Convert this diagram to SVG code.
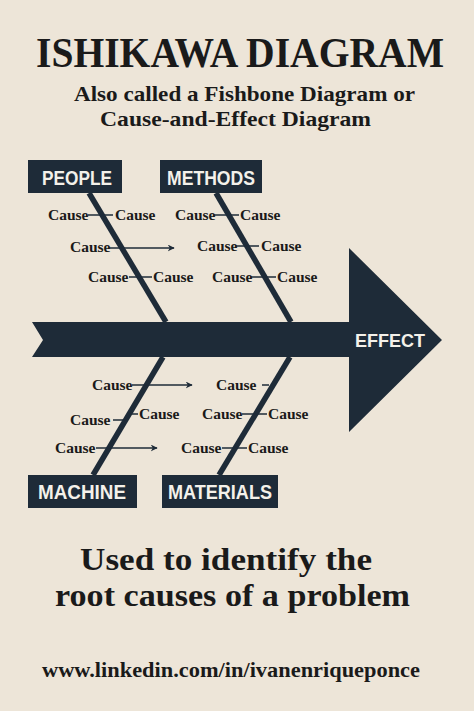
<svg xmlns="http://www.w3.org/2000/svg" width="474" height="711" viewBox="0 0 474 711">
<defs>
<marker id="ah" viewBox="0 0 10 10" refX="9" refY="5" markerWidth="7" markerHeight="7" markerUnits="userSpaceOnUse" orient="auto">
<path d="M0,0 L10,5 L0,10 L3,5 Z" fill="#1e2b38"/>
</marker>
</defs>
<style>
.bg{fill:#ede5d8}
.box{fill:#1e2b38}
.bl{font-family:"Liberation Sans",Arial,sans-serif;font-weight:bold;font-size:20px;fill:#f4f1ea}
.bone{stroke:#1e2b38;stroke-width:5.5;stroke-linecap:butt;fill:none}
.tick{stroke:#1e2b38;stroke-width:1.5;fill:none}
.arr{stroke:#1e2b38;stroke-width:1.5;fill:none;marker-end:url(#ah)}
.c{font-family:"Liberation Serif","Times New Roman",serif;font-weight:bold;font-size:15.5px;fill:#1a1a1a}
.t{font-family:"Liberation Serif","Times New Roman",serif;font-weight:bold;fill:#1a1a1a}
</style>
<rect class="bg" x="0" y="0" width="474" height="711"/>
<text class="t" x="36" y="67" font-size="42" textLength="408" lengthAdjust="spacingAndGlyphs">ISHIKAWA DIAGRAM</text>
<text class="t" x="74" y="101" font-size="21" textLength="341" lengthAdjust="spacingAndGlyphs">Also called a Fishbone Diagram or</text>
<text class="t" x="100" y="126" font-size="21" textLength="271" lengthAdjust="spacingAndGlyphs">Cause-and-Effect Diagram</text>

<g id="spine">
<path class="box" d="M32,322 L349,322 L349,248 L442,340 L349,432 L349,357 L32,357 L43,340 Z"/>
<text x="355" y="347" font-family="'Liberation Sans',Arial,sans-serif" font-weight="bold" font-size="19" fill="#f4f1ea" textLength="70" lengthAdjust="spacingAndGlyphs">EFFECT</text>
</g>

<g id="connectors">
<line class="bone" x1="89" y1="193" x2="166" y2="322"/>
<line class="bone" x1="216" y1="193" x2="291" y2="322"/>
<line class="bone" x1="163" y1="357" x2="93" y2="475"/>
<line class="bone" x1="290" y1="357" x2="219" y2="475"/>
<line class="tick" x1="88" y1="215" x2="113" y2="215"/>
<line class="arr" x1="109" y1="248" x2="174" y2="248"/>
<line class="tick" x1="129" y1="277" x2="152" y2="277"/>
<line class="tick" x1="214" y1="215" x2="239" y2="215"/>
<line class="tick" x1="236" y1="246" x2="259" y2="246"/>
<line class="tick" x1="251" y1="277" x2="276" y2="277"/>
<line class="arr" x1="132" y1="385" x2="192" y2="385"/>
<line class="tick" x1="113" y1="420" x2="126" y2="420"/>
<line class="tick" x1="131" y1="414" x2="138" y2="414"/>
<line class="arr" x1="96" y1="448" x2="157" y2="448"/>
<line class="tick" x1="262" y1="385" x2="269" y2="385"/>
<line class="tick" x1="242" y1="414" x2="267" y2="414"/>
<line class="tick" x1="222" y1="448" x2="247" y2="448"/>
</g>

<g id="people">
<rect class="box" x="28" y="160" width="94" height="33"/>
<text class="bl" x="42" y="185" textLength="70" lengthAdjust="spacingAndGlyphs">PEOPLE</text>
<text class="c" x="48" y="220">Cause</text>
<text class="c" x="115" y="220">Cause</text>
<text class="c" x="70" y="252">Cause</text>
<text class="c" x="88" y="282">Cause</text>
<text class="c" x="153" y="282">Cause</text>
</g>
<g id="methods">
<rect class="box" x="160" y="160" width="102" height="33"/>
<text class="bl" x="167" y="185" textLength="88" lengthAdjust="spacingAndGlyphs">METHODS</text>
<text class="c" x="175" y="220">Cause</text>
<text class="c" x="240" y="220">Cause</text>
<text class="c" x="197" y="251">Cause</text>
<text class="c" x="261" y="251">Cause</text>
<text class="c" x="212" y="282">Cause</text>
<text class="c" x="277" y="282">Cause</text>
</g>
<g id="machine">
<rect class="box" x="28" y="475" width="109" height="33"/>
<text class="bl" x="38" y="499" textLength="88" lengthAdjust="spacingAndGlyphs">MACHINE</text>
<text class="c" x="92" y="390">Cause</text>
<text class="c" x="70" y="425">Cause</text>
<text class="c" x="139" y="419">Cause</text>
<text class="c" x="55" y="453">Cause</text>
</g>
<g id="materials">
<rect class="box" x="162" y="475" width="116" height="33"/>
<text class="bl" x="168" y="499" textLength="104" lengthAdjust="spacingAndGlyphs">MATERIALS</text>
<text class="c" x="216" y="390">Cause</text>
<text class="c" x="202" y="419">Cause</text>
<text class="c" x="268" y="419">Cause</text>
<text class="c" x="181" y="453">Cause</text>
<text class="c" x="248" y="453">Cause</text>
</g>

<text class="t" x="80" y="570" font-size="31" textLength="292" lengthAdjust="spacingAndGlyphs">Used to identify the</text>
<text class="t" x="55" y="606" font-size="31" textLength="355" lengthAdjust="spacingAndGlyphs">root causes of a problem</text>
<text class="t" x="42" y="677" font-size="21" textLength="378" lengthAdjust="spacingAndGlyphs">www.linkedin.com/in/ivanenriqueponce</text>
</svg>
